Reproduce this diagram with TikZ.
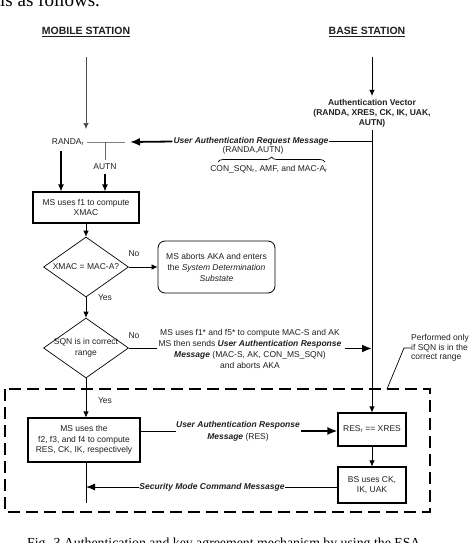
\documentclass[tikz,border=0pt]{standalone}
\usepackage{fontspec}
\setmainfont{Liberation Sans}
\newfontfamily\serifcap{Liberation Serif}
\usetikzlibrary{shapes.geometric,arrows.meta,decorations.pathreplacing}
\begin{document}
\begin{tikzpicture}[x=1pt,y=-1pt,
  every node/.style={font=\fontsize{8.5}{10.5}\selectfont, text=black!88, inner sep=0pt, align=center},
  hdr/.style={font=\fontsize{10.5}{12}\selectfont\bfseries},
  box/.style={draw, line width=1.1pt},
  rbox/.style={draw, line width=0.8pt, rounded corners=7pt},
  dia/.style={draw, diamond, line width=0.7pt, minimum width=85pt, minimum height=60pt, inner sep=0pt},
  ln/.style={line width=0.7pt},
  tarr/.style={line width=0.7pt, -{Latex[length=6pt,width=5.5pt]}},
  marr/.style={line width=1.1pt, -{Latex[length=7pt,width=6pt]}},
  bigarr/.style={line width=1.8pt, -{Latex[length=10pt,width=8pt]}},
  dashframe/.style={line width=1.3pt, dash pattern=on 12pt off 6pt},
]
\useasboundingbox (0,0) rectangle (474,543);

% page fragments
\node[anchor=base west, font=\fontsize{19}{22}\selectfont\serifcap, text=black] (toptext) at (0,6.5) {is as follows.};
\node[anchor=base west, font=\fontsize{13.8}{16}\selectfont\serifcap, text=black] (caption) at (27,547.5) {Fig. 3 Authentication and key agreement mechanism by using the ESA};

% headers
\node[hdr] (ms) at (86,32) {\underline{MOBILE STATION}};
\node[hdr] (bs) at (367,32) {\underline{BASE STATION}};
\coordinate (msTop) at (86,57);
\coordinate (bsTop) at (372,57);
\coordinate (msIn) at (86,129);

% base station side
\node[font=\fontsize{8.5}{10}\selectfont\bfseries, inner sep=3pt] (av) at (372,113) {Authentication Vector\\(RANDA, XRES, CK, IK, UAK,\\AUTN)};
\draw[tarr] (bsTop) -- (av.north);

% request message
\node (req) at (251,141.5) {\textbf{\textit{User Authentication Request Message}}};
\node (ra) at (253,150.5) {(RANDA,AUTN)};
\node (con) at (269,169.5) {CON\_SQN\textsubscript{r}, AMF, and MAC-A\textsubscript{r}};
\draw[ln, decorate, decoration={brace, amplitude=5pt}] (218,162) -- (325,162);
\coordinate (reqTip) at (130,142);
\draw[ln] (req.east) -- (req.east -| bsTop);
\draw[bigarr, shorten <=1pt] (req.west) -- (reqTip);

% mobile station top
\draw[tarr, draw=black!70] (msTop) -- (msIn);
\node (randa) at (68,142) {RANDA\textsubscript{r}};
\coordinate (gEnd) at (125,142);
\draw[ln, draw=black!50, shorten <=3pt] (randa.east) -- (gEnd);
\coordinate (aTop) at (105,142);
\node (autn) at (105,166.5) {AUTN};
\draw[ln, draw=black!60, shorten >=3pt] (aTop) -- (autn.north);
\coordinate (rA) at (61,151);

\node[box, minimum width=106pt, minimum height=31pt] (b1) at (86,207.5) {MS uses f1 to compute\\XMAC};
\draw[marr, shorten <=4pt] (autn.south) -- (autn.south |- b1.north);
\draw[marr] (rA) -- (rA |- b1.north);

% first decision
\node[dia] (d1) at (86,267) {};
\node (d1t) at (d1.center) {XMAC = MAC-A?};
\draw[tarr] (b1.south) -- (d1.north);
\node (no1) at (134,254) {No};
\node[rbox, minimum width=117pt, minimum height=52pt, font=\fontsize{8.5}{11}\selectfont] (abort) at (216.5,267) {MS aborts AKA and enters\\the \textit{System Determination}\\\textit{Substate}};
\draw[tarr] (d1.east) -- (abort.west);
\node (yes1) at (105,298) {Yes};

% second decision
\node[dia] (d2) at (86,348) {};
\node (d2t) at (d2.center) {SQN is in correct\\range};
\draw[tarr] (d1.south) -- (d2.north);
\node (no2) at (134,336) {No};
\node[font=\fontsize{8.5}{11}\selectfont, inner sep=1pt] (nomsg) at (250,348.5) {MS uses f1* and f5* to compute MAC-S and AK\\MS then sends \textbf{\textit{User Authentication Response}}\\\textbf{\textit{Message}} (MAC-S, AK, CON\_MS\_SQN)\\and aborts AKA};
\draw[ln, line width=1pt] (d2.east) -- (nomsg.west |- d2.east);
\draw[bigarr, shorten <=2pt] (nomsg.east) -- (nomsg.east -| bsTop);

% dashed frame and note
\draw[dashframe] (5,389) rectangle (430,512);
\node[anchor=west, align=left, font=\fontsize{8.5}{9.5}\selectfont] (perf) at (411,348) {Performed only\\if SQN is in the\\correct range};
\coordinate (perfEnd) at (387,389);
\draw[ln] (perf.west) -- ++(-7,0) -- (perfEnd);

% lower part
\node (yes2) at (105,401) {Yes};
\node[box, minimum width=112pt, minimum height=44pt] (b2) at (84,440) {MS uses the\\f2, f3, and f4 to compute\\RES, CK, IK, respectively};
\draw[tarr] (d2.south) -- (d2.south |- b2.north);
\coordinate (msEnd) at (86,503);
\draw[ln] (msEnd |- b2.south) -- (msEnd);

\node[box, minimum width=68pt, minimum height=33pt] (res) at (372,429.5) {RES\textsubscript{r} == XRES};
\node[box, minimum width=68pt, minimum height=36pt] (bsb) at (372,485) {BS uses CK,\\IK, UAK};
\draw[tarr] (av.south) -- (res.north);
\draw[tarr] (res.south) -- (bsb.north);

\node[font=\fontsize{8.5}{12}\selectfont] (resp) at (238,431) {\textbf{\textit{User Authentication Response}}\\\textbf{\textit{Message}} (RES)};
\draw[ln, line width=1pt] (resp.west -| b2.east) -- (resp.west);
\draw[bigarr, shorten <=1pt] (resp.east) -- (resp.east -| res.west);

\node (sec) at (212,487) {\textbf{\textit{Security Mode Command Messasge}}};
\draw[ln] (sec.east -| bsb.west) -- (sec.east);
\draw[line width=1pt, -{Latex[length=9pt,width=7pt]}] (sec.west) -- (sec.west -| msEnd);
\end{tikzpicture}
\end{document}
